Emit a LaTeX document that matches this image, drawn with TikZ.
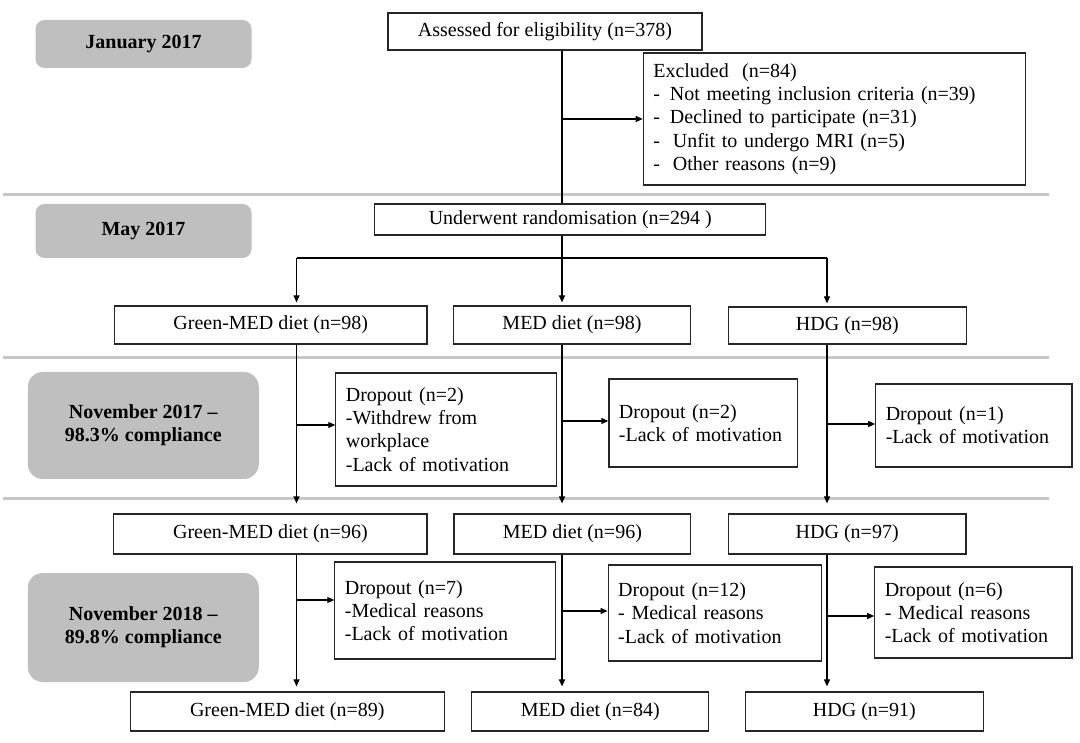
\documentclass[tikz,border=0pt]{standalone}
\usepackage{fontspec}
\setmainfont{Liberation Serif}
\usetikzlibrary{arrows.meta,calc}
\begin{document}
\begin{tikzpicture}[x=1pt,y=-1pt,
  txt/.style={font=\fontsize{20}{23.3}\selectfont},
  box/.style={draw=black!85, line width=1.2pt, fill=white, inner sep=0pt, txt},
  lbox/.style={box, align=left, inner xsep=10pt},
  period/.style={fill=black!25, rounded corners=9pt, inner sep=0pt, align=center, font=\fontsize{20}{23.3}\selectfont\bfseries},
  sep/.style={draw=black!22, line width=3pt},
  arr/.style={line width=1.1pt, -{Triangle[length=7pt,width=6pt]}},
  ln/.style={line width=1.1pt}]
\useasboundingbox (0,0) rectangle (1080,743);
% separator lines
\coordinate (s1a) at (3,195);   \coordinate (s1b) at (1049,195);
\coordinate (s2a) at (3,358);   \coordinate (s2b) at (1049,358);
\coordinate (s3a) at (3,498);   \coordinate (s3b) at (1049,498);
\draw[sep] (s1a) -- (s1b);
\draw[sep] (s2a) -- (s2b);
\draw[sep] (s3a) -- (s3b);
% period labels
\node[period, minimum width=216pt, minimum height=48pt] (jan) at (143.5,44) {January 2017};
\node[period, minimum width=216pt, minimum height=54pt] (may) at (143.5,231) {May 2017};
\node[period, rounded corners=15pt, minimum width=231pt, minimum height=107pt] (n17) at (143.3,425.5) {November 2017 --\\98.3\% compliance};
\node[period, rounded corners=15pt, minimum width=231pt, minimum height=109pt] (n18) at (143.3,627.5) {November 2018 --\\89.8\% compliance};
% column coordinates
\coordinate (cG) at (296.5,0);
\coordinate (cM) at (562,0);
\coordinate (cH) at (827,0);
% boxes
\node[box, minimum width=314pt, minimum height=37pt] (A) at (545,31.5) {Assessed for eligibility (n=378)};
\node[lbox, text width=362pt, minimum height=132pt] (E) at (834.3,119) {Excluded\ \ (n=84)\\-\hspace{10pt}Not meeting inclusion criteria (n=39)\\-\hspace{10pt}Declined to participate (n=31)\\-\hspace{13pt}Unfit to undergo MRI (n=5)\\-\hspace{13pt}Other reasons (n=9)};
\node[box, minimum width=391pt, minimum height=31pt] (R) at (570.2,219.5) {Underwent randomisation (n=294 )};
\node[box, minimum width=312.7pt, minimum height=38pt] (G1) at (270.7,325) {Green-MED diet (n=98)};
\node[box, minimum width=237.5pt, minimum height=38pt] (M1) at (572,325) {MED diet (n=98)};
\node[box, minimum width=238pt, minimum height=37pt] (H1) at (847.4,325.5) {HDG (n=98)};
\node[lbox, text width=200.7pt, minimum height=113pt] (D1) at (446.2,429.5) {Dropout (n=2)\\-Withdrew from\\workplace\\-Lack of motivation};
\node[lbox, text width=168.4pt, minimum height=88pt] (D2) at (703.1,423) {Dropout (n=2)\\-Lack of motivation\\[10pt]};
\node[lbox, text width=176.2pt, minimum height=83pt] (D3) at (973.9,425.5) {Dropout (n=1)\\-Lack of motivation\\[10pt]};
\node[box, minimum width=313.3pt, minimum height=40pt] (G2) at (270.4,534) {Green-MED diet (n=96)};
\node[box, minimum width=236.8pt, minimum height=40pt] (M2) at (572.4,534) {MED diet (n=96)};
\node[box, minimum width=237.6pt, minimum height=40pt] (H2) at (847.2,534) {HDG (n=97)};
\node[lbox, text width=200.7pt, minimum height=97pt] (D7) at (445.2,610.5) {Dropout (n=7)\\-Medical reasons\\-Lack of motivation};
\node[lbox, text width=193.2pt, minimum height=96pt] (D12) at (714.8,613) {Dropout (n=12)\\- Medical reasons\\-Lack of motivation};
\node[lbox, text width=177.2pt, minimum height=91pt] (D6) at (973.4,612.5) {Dropout (n=6)\\- Medical reasons\\-Lack of motivation};
\node[box, minimum width=314pt, minimum height=39pt] (G3) at (287.3,711.5) {Green-MED diet (n=89)};
\node[box, minimum width=237pt, minimum height=39pt] (M3) at (590.3,711.5) {MED diet (n=84)};
\node[box, minimum width=237.6pt, minimum height=39pt] (H3) at (864.4,711.5) {HDG (n=91)};
% branch coordinates
\coordinate (bG) at (296.5,258);
\coordinate (bM) at (562,258);
\coordinate (bH) at (827,258);
% connectors
\draw[ln] (A.south -| cM) -- (R.north -| cM);
\draw[arr] (E.west -| cM) -- (E.west);
\draw[ln] (R.south -| cM) -- (bM);
\draw[ln] (bG) -- (bH);
\draw[arr, shorten >=3pt] (bG) -- (G1.north -| bG);
\draw[arr, shorten >=3pt] (bM) -- (M1.north -| bM);
\draw[arr, shorten >=3pt] (bH) -- (H1.north -| bH);
\draw[arr, shorten >=10pt] (G1.south -| cG) -- (G2.north -| cG);
\draw[arr, shorten >=10pt] (M1.south -| cM) -- (M2.north -| cM);
\draw[arr, shorten >=10pt] (H1.south -| cH) -- (H2.north -| cH);
\draw[arr] ($(D1.west -| cG)+(0,-4.5)$) -- ($(D1.west)+(0,-4.5)$);
\draw[arr] ($(D2.west -| cM)+(0,-2)$) -- ($(D2.west)+(0,-2)$);
\draw[arr] ($(D3.west -| cH)+(0,-1.5)$) -- ($(D3.west)+(0,-1.5)$);
\draw[arr, shorten >=5pt] (G2.south -| cG) -- (G3.north -| cG);
\draw[arr, shorten >=5pt] (M2.south -| cM) -- (M3.north -| cM);
\draw[arr, shorten >=5pt] (H2.south -| cH) -- (H3.north -| cH);
\draw[arr] ($(D7.west -| cG)+(0,-10.5)$) -- ($(D7.west)+(0,-10.5)$);
\draw[arr] ($(D12.west -| cM)+(0,-2)$) -- ($(D12.west)+(0,-2)$);
\draw[arr] ($(D6.west -| cH)+(0,3.5)$) -- ($(D6.west)+(0,3.5)$);
\end{tikzpicture}
\end{document}
